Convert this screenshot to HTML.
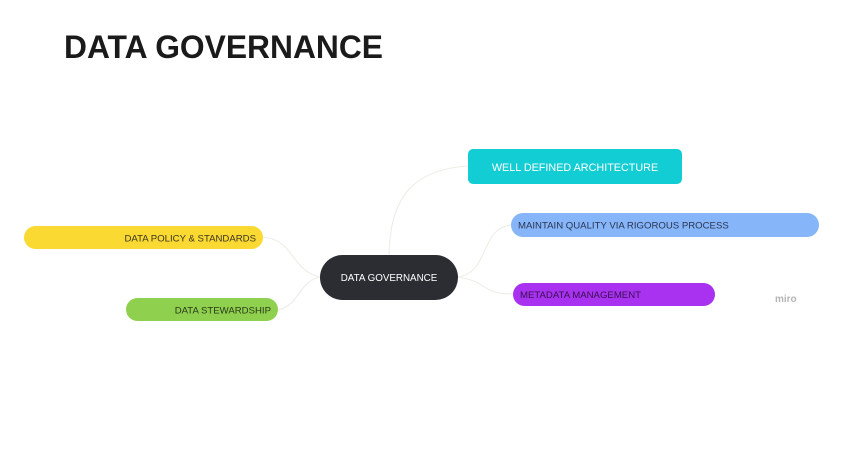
<!DOCTYPE html>
<html><head><meta charset="utf-8"><style>
html,body{margin:0;padding:0;background:#fff;width:844px;height:452px;overflow:hidden}
svg{display:block}
text{font-family:"Liberation Sans",sans-serif}
</style></head><body>
<svg width="844" height="452" viewBox="0 0 844 452" xmlns="http://www.w3.org/2000/svg">
<rect width="844" height="452" fill="#fff"/>
<text x="64" y="58" font-size="32" font-weight="bold" fill="#1a1a1a" textLength="319" lengthAdjust="spacingAndGlyphs">DATA GOVERNANCE</text>
<g fill="none" stroke="#eceee6" stroke-width="1.1">
<path d="M263 237 C295 240 290 270 320 277"/>
<path d="M278 310 C300 305 298 282 320 277"/>
<path d="M389 255 C390 200 410 170 468 166"/>
<path d="M458 277 C490 272 480 228 511 225"/>
<path d="M458 277 C490 282 480 294 513 294"/>
</g>
<rect x="24" y="226" width="239" height="23" rx="11.5" fill="#fad932"/>
<text x="256" y="241.5" font-size="9.6" fill="#3a3520" text-anchor="end">DATA POLICY &amp; STANDARDS</text>
<rect x="126" y="298" width="152" height="23" rx="11.5" fill="#8fd14f"/>
<text x="271" y="313.5" font-size="9.6" fill="#2a3a1a" text-anchor="end">DATA STEWARDSHIP</text>
<rect x="320" y="255" width="138" height="45" rx="22.5" fill="#2b2d33"/>
<text x="389" y="281" font-size="9.8" fill="#fff" text-anchor="middle">DATA GOVERNANCE</text>
<rect x="468" y="149" width="214" height="35" rx="5" fill="#12cdd4"/>
<text x="575" y="171" font-size="10.8" fill="#fff" text-anchor="middle">WELL DEFINED ARCHITECTURE</text>
<rect x="511" y="213" width="308" height="24" rx="12" fill="#86b5fa"/>
<text x="518" y="228.5" font-size="9.6" fill="#2a3550">MAINTAIN QUALITY VIA RIGOROUS PROCESS</text>
<rect x="513" y="283" width="202" height="23" rx="11.5" fill="#a832f0"/>
<text x="520" y="298" font-size="9.6" fill="#3a1050">METADATA MANAGEMENT</text>
<text x="775" y="302" font-size="10" fill="#b5b5b5" font-weight="bold">miro</text>
</svg>
</body></html>
